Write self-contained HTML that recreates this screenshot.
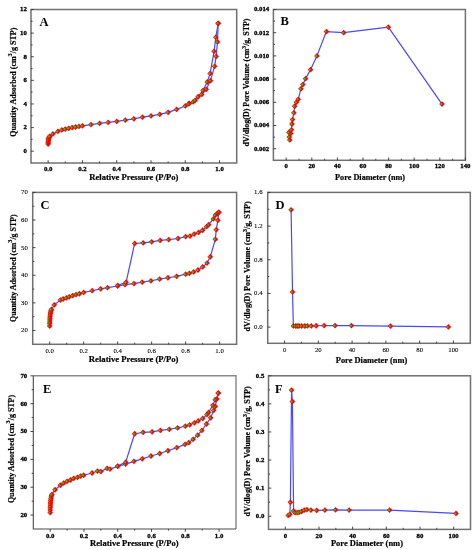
<!DOCTYPE html>
<html><head><meta charset="utf-8"><title>Isotherms</title>
<style>
html,body{margin:0;padding:0;background:#fff;}
body{width:476px;height:550px;overflow:hidden;}
svg{display:block;font-family:'Liberation Serif', 'Times New Roman', serif;}
</style></head><body>
<svg width="476" height="550" viewBox="0 0 476 550">
<rect width="476" height="550" fill="#fff"/>
<rect x="31" y="9.5" width="205.7" height="153.5" fill="none" stroke="#707070" stroke-width="1.5"/>
<path d="M48.14 163v-2.8M82.42 163v-2.8M116.71 163v-2.8M150.99 163v-2.8M185.27 163v-2.8M219.56 163v-2.8M65.28 163v-1.6M99.57 163v-1.6M133.85 163v-1.6M168.13 163v-1.6M202.42 163v-1.6M31 151.19h2.8M31 127.58h2.8M31 103.96h2.8M31 80.35h2.8M31 56.73h2.8M31 33.12h2.8M31 9.5h2.8M31 139.38h1.6M31 115.77h1.6M31 92.15h1.6M31 68.54h1.6M31 44.92h1.6M31 21.31h1.6" stroke="#333" stroke-width="0.9" fill="none"/>
<text x="48.14" y="171.2" text-anchor="middle" font-size="6.8" font-weight="bold" fill="#000" stroke="#000" stroke-width="0.3">0.0</text>
<text x="82.42" y="171.2" text-anchor="middle" font-size="6.8" font-weight="bold" fill="#000" stroke="#000" stroke-width="0.3">0.2</text>
<text x="116.71" y="171.2" text-anchor="middle" font-size="6.8" font-weight="bold" fill="#000" stroke="#000" stroke-width="0.3">0.4</text>
<text x="150.99" y="171.2" text-anchor="middle" font-size="6.8" font-weight="bold" fill="#000" stroke="#000" stroke-width="0.3">0.6</text>
<text x="185.27" y="171.2" text-anchor="middle" font-size="6.8" font-weight="bold" fill="#000" stroke="#000" stroke-width="0.3">0.8</text>
<text x="219.56" y="171.2" text-anchor="middle" font-size="6.8" font-weight="bold" fill="#000" stroke="#000" stroke-width="0.3">1.0</text>
<text x="26.8" y="153.09" text-anchor="end" font-size="6.8" font-weight="bold" fill="#000" stroke="#000" stroke-width="0.3">0</text>
<text x="26.8" y="129.48" text-anchor="end" font-size="6.8" font-weight="bold" fill="#000" stroke="#000" stroke-width="0.3">2</text>
<text x="26.8" y="105.86" text-anchor="end" font-size="6.8" font-weight="bold" fill="#000" stroke="#000" stroke-width="0.3">4</text>
<text x="26.8" y="82.25" text-anchor="end" font-size="6.8" font-weight="bold" fill="#000" stroke="#000" stroke-width="0.3">6</text>
<text x="26.8" y="58.63" text-anchor="end" font-size="6.8" font-weight="bold" fill="#000" stroke="#000" stroke-width="0.3">8</text>
<text x="26.8" y="35.02" text-anchor="end" font-size="6.8" font-weight="bold" fill="#000" stroke="#000" stroke-width="0.3">10</text>
<text x="26.8" y="11.4" text-anchor="end" font-size="6.8" font-weight="bold" fill="#000" stroke="#000" stroke-width="0.3">12</text>
<text x="89.2" y="179.8" font-size="9" font-weight="bold" stroke="#000" stroke-width="0.2" textLength="89.3" lengthAdjust="spacingAndGlyphs">Relative Pressure (P/Po)</text>
<text transform="translate(15.8 136.8) rotate(-90)" font-size="8.6" font-weight="bold" stroke="#000" stroke-width="0.2" textLength="109.2" lengthAdjust="spacingAndGlyphs">Quantity Adsorbed (cm<tspan dy="-4" font-size="6.88">3</tspan><tspan dy="4">/g STP)</tspan></text>
<text x="39.4" y="25.5" font-size="12.5" font-weight="bold">A</text>
<polyline points="48.14,144.11 48.14,142.93 48.23,141.98 48.31,141.04 48.4,140.09 48.48,139.38 48.66,138.56 49,137.73 49.34,137.02 49.68,136.31 52.94,133.95 57.91,131.36 61.85,129.94 65.28,129.11 68.71,128.29 72.14,127.58 75.57,126.99 79,126.4 82.42,125.81 91,124.62 99.57,123.33 108.14,122.38 116.71,121.44 125.28,120.14 133.85,118.84 142.42,117.19 150.99,115.89 159.73,114.35 168.13,112.34 176.53,109.39 185.27,105.97 189.22,103.37 193.16,101.95 198.13,96.76 201.73,94.4 206.19,89.32 210.47,80.7 214.59,66.29 216.13,56.38 217.5,41.97 218.19,23.31" fill="none" stroke="#4848ff" stroke-width="1.2" stroke-linejoin="round"/>
<polyline points="218.19,23.31 215.79,37.37 214.07,51.3 210.13,73.38 207.22,82 203.1,90.38 195.22,100.3 188.7,103.96" fill="none" stroke="#4848ff" stroke-width="1.2" stroke-linejoin="round"/>
<path d="M45.34 144.11l2.8 -2.9l2.8 2.9l-2.8 2.9z" fill="#f00"/>
<path d="M46.14 144.11l1.3 -1.3l1.3 1.3l-1.3 1.3z" fill="#2c2"/>
<path d="M45.34 142.93l2.8 -2.9l2.8 2.9l-2.8 2.9z" fill="#f00"/>
<path d="M46.14 142.93l1.3 -1.3l1.3 1.3l-1.3 1.3z" fill="#2c2"/>
<path d="M45.43 141.98l2.8 -2.9l2.8 2.9l-2.8 2.9z" fill="#f00"/>
<path d="M46.23 141.98l1.3 -1.3l1.3 1.3l-1.3 1.3z" fill="#2c2"/>
<path d="M45.51 141.04l2.8 -2.9l2.8 2.9l-2.8 2.9z" fill="#f00"/>
<path d="M46.31 141.04l1.3 -1.3l1.3 1.3l-1.3 1.3z" fill="#2c2"/>
<path d="M45.6 140.09l2.8 -2.9l2.8 2.9l-2.8 2.9z" fill="#f00"/>
<path d="M46.4 140.09l1.3 -1.3l1.3 1.3l-1.3 1.3z" fill="#2c2"/>
<path d="M45.68 139.38l2.8 -2.9l2.8 2.9l-2.8 2.9z" fill="#f00"/>
<path d="M46.48 139.38l1.3 -1.3l1.3 1.3l-1.3 1.3z" fill="#2c2"/>
<path d="M45.86 138.56l2.8 -2.9l2.8 2.9l-2.8 2.9z" fill="#f00"/>
<path d="M46.66 138.56l1.3 -1.3l1.3 1.3l-1.3 1.3z" fill="#2c2"/>
<path d="M46.2 137.73l2.8 -2.9l2.8 2.9l-2.8 2.9z" fill="#f00"/>
<path d="M47 137.73l1.3 -1.3l1.3 1.3l-1.3 1.3z" fill="#2c2"/>
<path d="M46.54 137.02l2.8 -2.9l2.8 2.9l-2.8 2.9z" fill="#f00"/>
<path d="M47.34 137.02l1.3 -1.3l1.3 1.3l-1.3 1.3z" fill="#2c2"/>
<path d="M46.88 136.31l2.8 -2.9l2.8 2.9l-2.8 2.9z" fill="#f00"/>
<path d="M47.68 136.31l1.3 -1.3l1.3 1.3l-1.3 1.3z" fill="#2c2"/>
<path d="M50.14 133.95l2.8 -2.9l2.8 2.9l-2.8 2.9z" fill="#f00"/>
<path d="M50.94 133.95l1.3 -1.3l1.3 1.3l-1.3 1.3z" fill="#2c2"/>
<path d="M55.11 131.36l2.8 -2.9l2.8 2.9l-2.8 2.9z" fill="#f00"/>
<path d="M55.91 131.36l1.3 -1.3l1.3 1.3l-1.3 1.3z" fill="#2c2"/>
<path d="M59.05 129.94l2.8 -2.9l2.8 2.9l-2.8 2.9z" fill="#f00"/>
<path d="M59.85 129.94l1.3 -1.3l1.3 1.3l-1.3 1.3z" fill="#2c2"/>
<path d="M62.48 129.11l2.8 -2.9l2.8 2.9l-2.8 2.9z" fill="#f00"/>
<path d="M63.28 129.11l1.3 -1.3l1.3 1.3l-1.3 1.3z" fill="#2c2"/>
<path d="M65.91 128.29l2.8 -2.9l2.8 2.9l-2.8 2.9z" fill="#f00"/>
<path d="M66.71 128.29l1.3 -1.3l1.3 1.3l-1.3 1.3z" fill="#2c2"/>
<path d="M69.34 127.58l2.8 -2.9l2.8 2.9l-2.8 2.9z" fill="#f00"/>
<path d="M70.14 127.58l1.3 -1.3l1.3 1.3l-1.3 1.3z" fill="#2c2"/>
<path d="M72.77 126.99l2.8 -2.9l2.8 2.9l-2.8 2.9z" fill="#f00"/>
<path d="M73.57 126.99l1.3 -1.3l1.3 1.3l-1.3 1.3z" fill="#2c2"/>
<path d="M76.2 126.4l2.8 -2.9l2.8 2.9l-2.8 2.9z" fill="#f00"/>
<path d="M77 126.4l1.3 -1.3l1.3 1.3l-1.3 1.3z" fill="#2c2"/>
<path d="M79.62 125.81l2.8 -2.9l2.8 2.9l-2.8 2.9z" fill="#f00"/>
<path d="M80.42 125.81l1.3 -1.3l1.3 1.3l-1.3 1.3z" fill="#2c2"/>
<path d="M88.2 124.62l2.8 -2.9l2.8 2.9l-2.8 2.9z" fill="#f00"/>
<path d="M89 124.62l1.3 -1.3l1.3 1.3l-1.3 1.3z" fill="#2c2"/>
<path d="M96.77 123.33l2.8 -2.9l2.8 2.9l-2.8 2.9z" fill="#f00"/>
<path d="M97.57 123.33l1.3 -1.3l1.3 1.3l-1.3 1.3z" fill="#2c2"/>
<path d="M105.34 122.38l2.8 -2.9l2.8 2.9l-2.8 2.9z" fill="#f00"/>
<path d="M106.14 122.38l1.3 -1.3l1.3 1.3l-1.3 1.3z" fill="#2c2"/>
<path d="M113.91 121.44l2.8 -2.9l2.8 2.9l-2.8 2.9z" fill="#f00"/>
<path d="M114.71 121.44l1.3 -1.3l1.3 1.3l-1.3 1.3z" fill="#2c2"/>
<path d="M122.48 120.14l2.8 -2.9l2.8 2.9l-2.8 2.9z" fill="#f00"/>
<path d="M123.28 120.14l1.3 -1.3l1.3 1.3l-1.3 1.3z" fill="#2c2"/>
<path d="M131.05 118.84l2.8 -2.9l2.8 2.9l-2.8 2.9z" fill="#f00"/>
<path d="M131.85 118.84l1.3 -1.3l1.3 1.3l-1.3 1.3z" fill="#2c2"/>
<path d="M139.62 117.19l2.8 -2.9l2.8 2.9l-2.8 2.9z" fill="#f00"/>
<path d="M140.42 117.19l1.3 -1.3l1.3 1.3l-1.3 1.3z" fill="#2c2"/>
<path d="M148.19 115.89l2.8 -2.9l2.8 2.9l-2.8 2.9z" fill="#f00"/>
<path d="M148.99 115.89l1.3 -1.3l1.3 1.3l-1.3 1.3z" fill="#2c2"/>
<path d="M156.93 114.35l2.8 -2.9l2.8 2.9l-2.8 2.9z" fill="#f00"/>
<path d="M157.73 114.35l1.3 -1.3l1.3 1.3l-1.3 1.3z" fill="#2c2"/>
<path d="M165.33 112.34l2.8 -2.9l2.8 2.9l-2.8 2.9z" fill="#f00"/>
<path d="M166.13 112.34l1.3 -1.3l1.3 1.3l-1.3 1.3z" fill="#2c2"/>
<path d="M173.73 109.39l2.8 -2.9l2.8 2.9l-2.8 2.9z" fill="#f00"/>
<path d="M174.53 109.39l1.3 -1.3l1.3 1.3l-1.3 1.3z" fill="#2c2"/>
<path d="M182.47 105.97l2.8 -2.9l2.8 2.9l-2.8 2.9z" fill="#f00"/>
<path d="M183.27 105.97l1.3 -1.3l1.3 1.3l-1.3 1.3z" fill="#2c2"/>
<path d="M186.42 103.37l2.8 -2.9l2.8 2.9l-2.8 2.9z" fill="#f00"/>
<path d="M187.22 103.37l1.3 -1.3l1.3 1.3l-1.3 1.3z" fill="#2c2"/>
<path d="M190.36 101.95l2.8 -2.9l2.8 2.9l-2.8 2.9z" fill="#f00"/>
<path d="M191.16 101.95l1.3 -1.3l1.3 1.3l-1.3 1.3z" fill="#2c2"/>
<path d="M195.33 96.76l2.8 -2.9l2.8 2.9l-2.8 2.9z" fill="#f00"/>
<path d="M196.13 96.76l1.3 -1.3l1.3 1.3l-1.3 1.3z" fill="#2c2"/>
<path d="M198.93 94.4l2.8 -2.9l2.8 2.9l-2.8 2.9z" fill="#f00"/>
<path d="M199.73 94.4l1.3 -1.3l1.3 1.3l-1.3 1.3z" fill="#2c2"/>
<path d="M203.39 89.32l2.8 -2.9l2.8 2.9l-2.8 2.9z" fill="#f00"/>
<path d="M204.19 89.32l1.3 -1.3l1.3 1.3l-1.3 1.3z" fill="#2c2"/>
<path d="M207.67 80.7l2.8 -2.9l2.8 2.9l-2.8 2.9z" fill="#f00"/>
<path d="M208.47 80.7l1.3 -1.3l1.3 1.3l-1.3 1.3z" fill="#2c2"/>
<path d="M211.79 66.29l2.8 -2.9l2.8 2.9l-2.8 2.9z" fill="#f00"/>
<path d="M212.59 66.29l1.3 -1.3l1.3 1.3l-1.3 1.3z" fill="#2c2"/>
<path d="M213.33 56.38l2.8 -2.9l2.8 2.9l-2.8 2.9z" fill="#f00"/>
<path d="M214.13 56.38l1.3 -1.3l1.3 1.3l-1.3 1.3z" fill="#2c2"/>
<path d="M214.7 41.97l2.8 -2.9l2.8 2.9l-2.8 2.9z" fill="#f00"/>
<path d="M215.5 41.97l1.3 -1.3l1.3 1.3l-1.3 1.3z" fill="#2c2"/>
<path d="M215.39 23.31l2.8 -2.9l2.8 2.9l-2.8 2.9z" fill="#f00"/>
<path d="M216.19 23.31l1.3 -1.3l1.3 1.3l-1.3 1.3z" fill="#2c2"/>
<path d="M215.39 23.31l2.8 -2.9l2.8 2.9l-2.8 2.9z" fill="#f00"/>
<path d="M216.19 23.31l1.3 -1.3l1.3 1.3l-1.3 1.3z" fill="#2c2"/>
<path d="M212.99 37.37l2.8 -2.9l2.8 2.9l-2.8 2.9z" fill="#f00"/>
<path d="M213.79 37.37l1.3 -1.3l1.3 1.3l-1.3 1.3z" fill="#2c2"/>
<path d="M211.27 51.3l2.8 -2.9l2.8 2.9l-2.8 2.9z" fill="#f00"/>
<path d="M212.07 51.3l1.3 -1.3l1.3 1.3l-1.3 1.3z" fill="#2c2"/>
<path d="M207.33 73.38l2.8 -2.9l2.8 2.9l-2.8 2.9z" fill="#f00"/>
<path d="M208.13 73.38l1.3 -1.3l1.3 1.3l-1.3 1.3z" fill="#2c2"/>
<path d="M204.42 82l2.8 -2.9l2.8 2.9l-2.8 2.9z" fill="#f00"/>
<path d="M205.22 82l1.3 -1.3l1.3 1.3l-1.3 1.3z" fill="#2c2"/>
<path d="M200.3 90.38l2.8 -2.9l2.8 2.9l-2.8 2.9z" fill="#f00"/>
<path d="M201.1 90.38l1.3 -1.3l1.3 1.3l-1.3 1.3z" fill="#2c2"/>
<path d="M192.42 100.3l2.8 -2.9l2.8 2.9l-2.8 2.9z" fill="#f00"/>
<path d="M193.22 100.3l1.3 -1.3l1.3 1.3l-1.3 1.3z" fill="#2c2"/>
<path d="M185.9 103.96l2.8 -2.9l2.8 2.9l-2.8 2.9z" fill="#f00"/>
<path d="M186.7 103.96l1.3 -1.3l1.3 1.3l-1.3 1.3z" fill="#2c2"/>
<rect x="273.4" y="9.5" width="192" height="150.8" fill="none" stroke="#707070" stroke-width="1.5"/>
<path d="M286.2 160.3v-2.8M311.8 160.3v-2.8M337.4 160.3v-2.8M363 160.3v-2.8M388.6 160.3v-2.8M414.2 160.3v-2.8M439.8 160.3v-2.8M465.4 160.3v-2.8M299 160.3v-1.6M324.6 160.3v-1.6M350.2 160.3v-1.6M375.8 160.3v-1.6M401.4 160.3v-1.6M427 160.3v-1.6M452.6 160.3v-1.6M273.4 148.7h2.8M273.4 125.5h2.8M273.4 102.3h2.8M273.4 79.1h2.8M273.4 55.9h2.8M273.4 32.7h2.8M273.4 9.5h2.8M273.4 137.1h1.6M273.4 113.9h1.6M273.4 90.7h1.6M273.4 67.5h1.6M273.4 44.3h1.6M273.4 21.1h1.6" stroke="#333" stroke-width="0.9" fill="none"/>
<text x="286.2" y="168" text-anchor="middle" font-size="6.8" font-weight="bold" fill="#000" stroke="#000" stroke-width="0.3">0</text>
<text x="311.8" y="168" text-anchor="middle" font-size="6.8" font-weight="bold" fill="#000" stroke="#000" stroke-width="0.3">20</text>
<text x="337.4" y="168" text-anchor="middle" font-size="6.8" font-weight="bold" fill="#000" stroke="#000" stroke-width="0.3">40</text>
<text x="363" y="168" text-anchor="middle" font-size="6.8" font-weight="bold" fill="#000" stroke="#000" stroke-width="0.3">60</text>
<text x="388.6" y="168" text-anchor="middle" font-size="6.8" font-weight="bold" fill="#000" stroke="#000" stroke-width="0.3">80</text>
<text x="414.2" y="168" text-anchor="middle" font-size="6.8" font-weight="bold" fill="#000" stroke="#000" stroke-width="0.3">100</text>
<text x="439.8" y="168" text-anchor="middle" font-size="6.8" font-weight="bold" fill="#000" stroke="#000" stroke-width="0.3">120</text>
<text x="465.4" y="168" text-anchor="middle" font-size="6.8" font-weight="bold" fill="#000" stroke="#000" stroke-width="0.3">140</text>
<text x="269.2" y="150.6" text-anchor="end" font-size="6.8" font-weight="bold" fill="#000" stroke="#000" stroke-width="0.3">0.002</text>
<text x="269.2" y="127.4" text-anchor="end" font-size="6.8" font-weight="bold" fill="#000" stroke="#000" stroke-width="0.3">0.004</text>
<text x="269.2" y="104.2" text-anchor="end" font-size="6.8" font-weight="bold" fill="#000" stroke="#000" stroke-width="0.3">0.006</text>
<text x="269.2" y="81" text-anchor="end" font-size="6.8" font-weight="bold" fill="#000" stroke="#000" stroke-width="0.3">0.008</text>
<text x="269.2" y="57.8" text-anchor="end" font-size="6.8" font-weight="bold" fill="#000" stroke="#000" stroke-width="0.3">0.010</text>
<text x="269.2" y="34.6" text-anchor="end" font-size="6.8" font-weight="bold" fill="#000" stroke="#000" stroke-width="0.3">0.012</text>
<text x="269.2" y="11.4" text-anchor="end" font-size="6.8" font-weight="bold" fill="#000" stroke="#000" stroke-width="0.3">0.014</text>
<text x="335.1" y="180" font-size="9" font-weight="bold" stroke="#000" stroke-width="0.2" textLength="70" lengthAdjust="spacingAndGlyphs">Pore Diameter (nm)</text>
<text transform="translate(248.9 146.6) rotate(-90)" font-size="8.6" font-weight="bold" stroke="#000" stroke-width="0.2" textLength="128.1" lengthAdjust="spacingAndGlyphs">dV/dlog(D) Pore Volume (cm<tspan dy="-3.2" font-size="6.19">3</tspan><tspan dy="3.2">/g, STP)</tspan></text>
<text x="280.6" y="24.6" font-size="12.5" font-weight="bold">B</text>
<polyline points="289.78,139.88 289.27,137.1 290.81,133.62 288.89,132.46 291.45,129.79 291.96,123.99 292.47,119.58 293.88,112.86 294.65,106.24 296.44,102.18 298.23,99.28 300.92,88.84 302.84,84.55 305.53,78.64 310.52,69.7 316.92,55.9 326.39,31.54 343.67,32.7 388.34,27.13 441.98,104.04" fill="none" stroke="#4848ff" stroke-width="1.2" stroke-linejoin="round"/>
<path d="M286.98 139.88l2.8 -2.9l2.8 2.9l-2.8 2.9z" fill="#f00"/>
<path d="M287.78 139.88l1.3 -1.3l1.3 1.3l-1.3 1.3z" fill="#2c2"/>
<path d="M286.47 137.1l2.8 -2.9l2.8 2.9l-2.8 2.9z" fill="#f00"/>
<path d="M287.27 137.1l1.3 -1.3l1.3 1.3l-1.3 1.3z" fill="#2c2"/>
<path d="M288.01 133.62l2.8 -2.9l2.8 2.9l-2.8 2.9z" fill="#f00"/>
<path d="M288.81 133.62l1.3 -1.3l1.3 1.3l-1.3 1.3z" fill="#2c2"/>
<path d="M286.09 132.46l2.8 -2.9l2.8 2.9l-2.8 2.9z" fill="#f00"/>
<path d="M286.89 132.46l1.3 -1.3l1.3 1.3l-1.3 1.3z" fill="#2c2"/>
<path d="M288.65 129.79l2.8 -2.9l2.8 2.9l-2.8 2.9z" fill="#f00"/>
<path d="M289.45 129.79l1.3 -1.3l1.3 1.3l-1.3 1.3z" fill="#2c2"/>
<path d="M289.16 123.99l2.8 -2.9l2.8 2.9l-2.8 2.9z" fill="#f00"/>
<path d="M289.96 123.99l1.3 -1.3l1.3 1.3l-1.3 1.3z" fill="#2c2"/>
<path d="M289.67 119.58l2.8 -2.9l2.8 2.9l-2.8 2.9z" fill="#f00"/>
<path d="M290.47 119.58l1.3 -1.3l1.3 1.3l-1.3 1.3z" fill="#2c2"/>
<path d="M291.08 112.86l2.8 -2.9l2.8 2.9l-2.8 2.9z" fill="#f00"/>
<path d="M291.88 112.86l1.3 -1.3l1.3 1.3l-1.3 1.3z" fill="#2c2"/>
<path d="M291.85 106.24l2.8 -2.9l2.8 2.9l-2.8 2.9z" fill="#f00"/>
<path d="M292.65 106.24l1.3 -1.3l1.3 1.3l-1.3 1.3z" fill="#2c2"/>
<path d="M293.64 102.18l2.8 -2.9l2.8 2.9l-2.8 2.9z" fill="#f00"/>
<path d="M294.44 102.18l1.3 -1.3l1.3 1.3l-1.3 1.3z" fill="#2c2"/>
<path d="M295.43 99.28l2.8 -2.9l2.8 2.9l-2.8 2.9z" fill="#f00"/>
<path d="M296.23 99.28l1.3 -1.3l1.3 1.3l-1.3 1.3z" fill="#2c2"/>
<path d="M298.12 88.84l2.8 -2.9l2.8 2.9l-2.8 2.9z" fill="#f00"/>
<path d="M298.92 88.84l1.3 -1.3l1.3 1.3l-1.3 1.3z" fill="#2c2"/>
<path d="M300.04 84.55l2.8 -2.9l2.8 2.9l-2.8 2.9z" fill="#f00"/>
<path d="M300.84 84.55l1.3 -1.3l1.3 1.3l-1.3 1.3z" fill="#2c2"/>
<path d="M302.73 78.64l2.8 -2.9l2.8 2.9l-2.8 2.9z" fill="#f00"/>
<path d="M303.53 78.64l1.3 -1.3l1.3 1.3l-1.3 1.3z" fill="#2c2"/>
<path d="M307.72 69.7l2.8 -2.9l2.8 2.9l-2.8 2.9z" fill="#f00"/>
<path d="M308.52 69.7l1.3 -1.3l1.3 1.3l-1.3 1.3z" fill="#2c2"/>
<path d="M314.12 55.9l2.8 -2.9l2.8 2.9l-2.8 2.9z" fill="#f00"/>
<path d="M314.92 55.9l1.3 -1.3l1.3 1.3l-1.3 1.3z" fill="#2c2"/>
<path d="M323.59 31.54l2.8 -2.9l2.8 2.9l-2.8 2.9z" fill="#f00"/>
<path d="M324.39 31.54l1.3 -1.3l1.3 1.3l-1.3 1.3z" fill="#2c2"/>
<path d="M340.87 32.7l2.8 -2.9l2.8 2.9l-2.8 2.9z" fill="#f00"/>
<path d="M341.67 32.7l1.3 -1.3l1.3 1.3l-1.3 1.3z" fill="#2c2"/>
<path d="M385.54 27.13l2.8 -2.9l2.8 2.9l-2.8 2.9z" fill="#f00"/>
<path d="M386.34 27.13l1.3 -1.3l1.3 1.3l-1.3 1.3z" fill="#2c2"/>
<path d="M439.18 104.04l2.8 -2.9l2.8 2.9l-2.8 2.9z" fill="#f00"/>
<path d="M439.98 104.04l1.3 -1.3l1.3 1.3l-1.3 1.3z" fill="#2c2"/>
<rect x="32.7" y="192.4" width="203.9" height="151.9" fill="none" stroke="#707070" stroke-width="1.5"/>
<path d="M49.69 344.3v-2.8M83.67 344.3v-2.8M117.66 344.3v-2.8M151.64 344.3v-2.8M185.62 344.3v-2.8M219.61 344.3v-2.8M66.68 344.3v-1.6M100.67 344.3v-1.6M134.65 344.3v-1.6M168.63 344.3v-1.6M202.62 344.3v-1.6M32.7 330.49h2.8M32.7 302.87h2.8M32.7 275.25h2.8M32.7 247.64h2.8M32.7 220.02h2.8M32.7 192.4h2.8M32.7 316.68h1.6M32.7 289.06h1.6M32.7 261.45h1.6M32.7 233.83h1.6M32.7 206.21h1.6" stroke="#333" stroke-width="0.9" fill="none"/>
<text x="49.69" y="352.6" text-anchor="middle" font-size="6.8" font-weight="normal" fill="#000" stroke="#000" stroke-width="0.1">0.0</text>
<text x="83.67" y="352.6" text-anchor="middle" font-size="6.8" font-weight="normal" fill="#000" stroke="#000" stroke-width="0.1">0.2</text>
<text x="117.66" y="352.6" text-anchor="middle" font-size="6.8" font-weight="normal" fill="#000" stroke="#000" stroke-width="0.1">0.4</text>
<text x="151.64" y="352.6" text-anchor="middle" font-size="6.8" font-weight="normal" fill="#000" stroke="#000" stroke-width="0.1">0.6</text>
<text x="185.62" y="352.6" text-anchor="middle" font-size="6.8" font-weight="normal" fill="#000" stroke="#000" stroke-width="0.1">0.8</text>
<text x="219.61" y="352.6" text-anchor="middle" font-size="6.8" font-weight="normal" fill="#000" stroke="#000" stroke-width="0.1">1.0</text>
<text x="27.9" y="332.39" text-anchor="end" font-size="6.8" font-weight="normal" fill="#000" stroke="#000" stroke-width="0.1">20</text>
<text x="27.9" y="304.77" text-anchor="end" font-size="6.8" font-weight="normal" fill="#000" stroke="#000" stroke-width="0.1">30</text>
<text x="27.9" y="277.15" text-anchor="end" font-size="6.8" font-weight="normal" fill="#000" stroke="#000" stroke-width="0.1">40</text>
<text x="27.9" y="249.54" text-anchor="end" font-size="6.8" font-weight="normal" fill="#000" stroke="#000" stroke-width="0.1">50</text>
<text x="27.9" y="221.92" text-anchor="end" font-size="6.8" font-weight="normal" fill="#000" stroke="#000" stroke-width="0.1">60</text>
<text x="27.9" y="194.3" text-anchor="end" font-size="6.8" font-weight="normal" fill="#000" stroke="#000" stroke-width="0.1">70</text>
<text x="88.8" y="362.3" font-size="9" font-weight="bold" stroke="#000" stroke-width="0.2" textLength="89.7" lengthAdjust="spacingAndGlyphs">Relative Pressure (P/Po)</text>
<text transform="translate(16.3 322) rotate(-90)" font-size="8.6" font-weight="bold" stroke="#000" stroke-width="0.2" textLength="107.6" lengthAdjust="spacingAndGlyphs">Quantity Adsorbed (cm<tspan dy="-4" font-size="6.88">3</tspan><tspan dy="4">/g STP)</tspan></text>
<text x="40.4" y="209" font-size="12.5" font-weight="bold">C</text>
<polyline points="49.69,326.07 49.69,323.86 49.78,321.93 49.86,320 49.95,318.34 50.03,316.68 50.2,315.02 50.37,313.37 50.71,311.99 51.05,310.61 51.39,309.5 54.28,304.81 60.4,300.11 63.12,299.01 66.34,297.9 69.23,296.8 72.63,295.69 76.03,294.59 79.43,293.76 83.67,292.38 92.17,290.72 100.67,288.79 107.46,287.68 117.66,286.03 124.96,284.64 133.97,283.54 142.13,282.16 150.96,280.78 159.63,279.12 167.95,277.74 176.62,276.36 185.62,274.15 189.36,273.32 193.61,271.94 198.03,270.01 202.62,266.97 207.03,263.1 210.26,256.75 215.36,239.35 216.21,229.68 217.91,220.29 218.76,212.29" fill="none" stroke="#4848ff" stroke-width="1.2" stroke-linejoin="round"/>
<polyline points="218.76,212.29 217.06,213.94 215.36,215.05 213.32,218.91 208.73,224.71 206.52,226.65 202.62,230.24 198.54,232.45 194.12,234.1 190.04,236.04 185.62,236.59 177.98,238.52 168.63,239.63 160.14,240.46 151.64,241.84 143.15,242.94 134.65,243.49 126.15,282.16 117.66,285.47" fill="none" stroke="#4848ff" stroke-width="1.2" stroke-linejoin="round"/>
<path d="M46.89 326.07l2.8 -2.9l2.8 2.9l-2.8 2.9z" fill="#f00"/>
<path d="M47.69 326.07l1.3 -1.3l1.3 1.3l-1.3 1.3z" fill="#2c2"/>
<path d="M46.89 323.86l2.8 -2.9l2.8 2.9l-2.8 2.9z" fill="#f00"/>
<path d="M47.69 323.86l1.3 -1.3l1.3 1.3l-1.3 1.3z" fill="#2c2"/>
<path d="M46.98 321.93l2.8 -2.9l2.8 2.9l-2.8 2.9z" fill="#f00"/>
<path d="M47.78 321.93l1.3 -1.3l1.3 1.3l-1.3 1.3z" fill="#2c2"/>
<path d="M47.06 320l2.8 -2.9l2.8 2.9l-2.8 2.9z" fill="#f00"/>
<path d="M47.86 320l1.3 -1.3l1.3 1.3l-1.3 1.3z" fill="#2c2"/>
<path d="M47.15 318.34l2.8 -2.9l2.8 2.9l-2.8 2.9z" fill="#f00"/>
<path d="M47.95 318.34l1.3 -1.3l1.3 1.3l-1.3 1.3z" fill="#2c2"/>
<path d="M47.23 316.68l2.8 -2.9l2.8 2.9l-2.8 2.9z" fill="#f00"/>
<path d="M48.03 316.68l1.3 -1.3l1.3 1.3l-1.3 1.3z" fill="#2c2"/>
<path d="M47.4 315.02l2.8 -2.9l2.8 2.9l-2.8 2.9z" fill="#f00"/>
<path d="M48.2 315.02l1.3 -1.3l1.3 1.3l-1.3 1.3z" fill="#2c2"/>
<path d="M47.57 313.37l2.8 -2.9l2.8 2.9l-2.8 2.9z" fill="#f00"/>
<path d="M48.37 313.37l1.3 -1.3l1.3 1.3l-1.3 1.3z" fill="#2c2"/>
<path d="M47.91 311.99l2.8 -2.9l2.8 2.9l-2.8 2.9z" fill="#f00"/>
<path d="M48.71 311.99l1.3 -1.3l1.3 1.3l-1.3 1.3z" fill="#2c2"/>
<path d="M48.25 310.61l2.8 -2.9l2.8 2.9l-2.8 2.9z" fill="#f00"/>
<path d="M49.05 310.61l1.3 -1.3l1.3 1.3l-1.3 1.3z" fill="#2c2"/>
<path d="M48.59 309.5l2.8 -2.9l2.8 2.9l-2.8 2.9z" fill="#f00"/>
<path d="M49.39 309.5l1.3 -1.3l1.3 1.3l-1.3 1.3z" fill="#2c2"/>
<path d="M51.48 304.81l2.8 -2.9l2.8 2.9l-2.8 2.9z" fill="#f00"/>
<path d="M52.28 304.81l1.3 -1.3l1.3 1.3l-1.3 1.3z" fill="#2c2"/>
<path d="M57.6 300.11l2.8 -2.9l2.8 2.9l-2.8 2.9z" fill="#f00"/>
<path d="M58.4 300.11l1.3 -1.3l1.3 1.3l-1.3 1.3z" fill="#2c2"/>
<path d="M60.32 299.01l2.8 -2.9l2.8 2.9l-2.8 2.9z" fill="#f00"/>
<path d="M61.12 299.01l1.3 -1.3l1.3 1.3l-1.3 1.3z" fill="#2c2"/>
<path d="M63.54 297.9l2.8 -2.9l2.8 2.9l-2.8 2.9z" fill="#f00"/>
<path d="M64.34 297.9l1.3 -1.3l1.3 1.3l-1.3 1.3z" fill="#2c2"/>
<path d="M66.43 296.8l2.8 -2.9l2.8 2.9l-2.8 2.9z" fill="#f00"/>
<path d="M67.23 296.8l1.3 -1.3l1.3 1.3l-1.3 1.3z" fill="#2c2"/>
<path d="M69.83 295.69l2.8 -2.9l2.8 2.9l-2.8 2.9z" fill="#f00"/>
<path d="M70.63 295.69l1.3 -1.3l1.3 1.3l-1.3 1.3z" fill="#2c2"/>
<path d="M73.23 294.59l2.8 -2.9l2.8 2.9l-2.8 2.9z" fill="#f00"/>
<path d="M74.03 294.59l1.3 -1.3l1.3 1.3l-1.3 1.3z" fill="#2c2"/>
<path d="M76.63 293.76l2.8 -2.9l2.8 2.9l-2.8 2.9z" fill="#f00"/>
<path d="M77.43 293.76l1.3 -1.3l1.3 1.3l-1.3 1.3z" fill="#2c2"/>
<path d="M80.88 292.38l2.8 -2.9l2.8 2.9l-2.8 2.9z" fill="#f00"/>
<path d="M81.67 292.38l1.3 -1.3l1.3 1.3l-1.3 1.3z" fill="#2c2"/>
<path d="M89.37 290.72l2.8 -2.9l2.8 2.9l-2.8 2.9z" fill="#f00"/>
<path d="M90.17 290.72l1.3 -1.3l1.3 1.3l-1.3 1.3z" fill="#2c2"/>
<path d="M97.87 288.79l2.8 -2.9l2.8 2.9l-2.8 2.9z" fill="#f00"/>
<path d="M98.67 288.79l1.3 -1.3l1.3 1.3l-1.3 1.3z" fill="#2c2"/>
<path d="M104.66 287.68l2.8 -2.9l2.8 2.9l-2.8 2.9z" fill="#f00"/>
<path d="M105.46 287.68l1.3 -1.3l1.3 1.3l-1.3 1.3z" fill="#2c2"/>
<path d="M114.86 286.03l2.8 -2.9l2.8 2.9l-2.8 2.9z" fill="#f00"/>
<path d="M115.66 286.03l1.3 -1.3l1.3 1.3l-1.3 1.3z" fill="#2c2"/>
<path d="M122.16 284.64l2.8 -2.9l2.8 2.9l-2.8 2.9z" fill="#f00"/>
<path d="M122.96 284.64l1.3 -1.3l1.3 1.3l-1.3 1.3z" fill="#2c2"/>
<path d="M131.17 283.54l2.8 -2.9l2.8 2.9l-2.8 2.9z" fill="#f00"/>
<path d="M131.97 283.54l1.3 -1.3l1.3 1.3l-1.3 1.3z" fill="#2c2"/>
<path d="M139.33 282.16l2.8 -2.9l2.8 2.9l-2.8 2.9z" fill="#f00"/>
<path d="M140.13 282.16l1.3 -1.3l1.3 1.3l-1.3 1.3z" fill="#2c2"/>
<path d="M148.16 280.78l2.8 -2.9l2.8 2.9l-2.8 2.9z" fill="#f00"/>
<path d="M148.96 280.78l1.3 -1.3l1.3 1.3l-1.3 1.3z" fill="#2c2"/>
<path d="M156.83 279.12l2.8 -2.9l2.8 2.9l-2.8 2.9z" fill="#f00"/>
<path d="M157.63 279.12l1.3 -1.3l1.3 1.3l-1.3 1.3z" fill="#2c2"/>
<path d="M165.15 277.74l2.8 -2.9l2.8 2.9l-2.8 2.9z" fill="#f00"/>
<path d="M165.95 277.74l1.3 -1.3l1.3 1.3l-1.3 1.3z" fill="#2c2"/>
<path d="M173.82 276.36l2.8 -2.9l2.8 2.9l-2.8 2.9z" fill="#f00"/>
<path d="M174.62 276.36l1.3 -1.3l1.3 1.3l-1.3 1.3z" fill="#2c2"/>
<path d="M182.82 274.15l2.8 -2.9l2.8 2.9l-2.8 2.9z" fill="#f00"/>
<path d="M183.62 274.15l1.3 -1.3l1.3 1.3l-1.3 1.3z" fill="#2c2"/>
<path d="M186.56 273.32l2.8 -2.9l2.8 2.9l-2.8 2.9z" fill="#f00"/>
<path d="M187.36 273.32l1.3 -1.3l1.3 1.3l-1.3 1.3z" fill="#2c2"/>
<path d="M190.81 271.94l2.8 -2.9l2.8 2.9l-2.8 2.9z" fill="#f00"/>
<path d="M191.61 271.94l1.3 -1.3l1.3 1.3l-1.3 1.3z" fill="#2c2"/>
<path d="M195.23 270.01l2.8 -2.9l2.8 2.9l-2.8 2.9z" fill="#f00"/>
<path d="M196.03 270.01l1.3 -1.3l1.3 1.3l-1.3 1.3z" fill="#2c2"/>
<path d="M199.82 266.97l2.8 -2.9l2.8 2.9l-2.8 2.9z" fill="#f00"/>
<path d="M200.62 266.97l1.3 -1.3l1.3 1.3l-1.3 1.3z" fill="#2c2"/>
<path d="M204.23 263.1l2.8 -2.9l2.8 2.9l-2.8 2.9z" fill="#f00"/>
<path d="M205.03 263.1l1.3 -1.3l1.3 1.3l-1.3 1.3z" fill="#2c2"/>
<path d="M207.46 256.75l2.8 -2.9l2.8 2.9l-2.8 2.9z" fill="#f00"/>
<path d="M208.26 256.75l1.3 -1.3l1.3 1.3l-1.3 1.3z" fill="#2c2"/>
<path d="M212.56 239.35l2.8 -2.9l2.8 2.9l-2.8 2.9z" fill="#f00"/>
<path d="M213.36 239.35l1.3 -1.3l1.3 1.3l-1.3 1.3z" fill="#2c2"/>
<path d="M213.41 229.68l2.8 -2.9l2.8 2.9l-2.8 2.9z" fill="#f00"/>
<path d="M214.21 229.68l1.3 -1.3l1.3 1.3l-1.3 1.3z" fill="#2c2"/>
<path d="M215.11 220.29l2.8 -2.9l2.8 2.9l-2.8 2.9z" fill="#f00"/>
<path d="M215.91 220.29l1.3 -1.3l1.3 1.3l-1.3 1.3z" fill="#2c2"/>
<path d="M215.96 212.29l2.8 -2.9l2.8 2.9l-2.8 2.9z" fill="#f00"/>
<path d="M216.76 212.29l1.3 -1.3l1.3 1.3l-1.3 1.3z" fill="#2c2"/>
<path d="M215.96 212.29l2.8 -2.9l2.8 2.9l-2.8 2.9z" fill="#f00"/>
<path d="M216.76 212.29l1.3 -1.3l1.3 1.3l-1.3 1.3z" fill="#2c2"/>
<path d="M214.26 213.94l2.8 -2.9l2.8 2.9l-2.8 2.9z" fill="#f00"/>
<path d="M215.06 213.94l1.3 -1.3l1.3 1.3l-1.3 1.3z" fill="#2c2"/>
<path d="M212.56 215.05l2.8 -2.9l2.8 2.9l-2.8 2.9z" fill="#f00"/>
<path d="M213.36 215.05l1.3 -1.3l1.3 1.3l-1.3 1.3z" fill="#2c2"/>
<path d="M210.52 218.91l2.8 -2.9l2.8 2.9l-2.8 2.9z" fill="#f00"/>
<path d="M211.32 218.91l1.3 -1.3l1.3 1.3l-1.3 1.3z" fill="#2c2"/>
<path d="M205.93 224.71l2.8 -2.9l2.8 2.9l-2.8 2.9z" fill="#f00"/>
<path d="M206.73 224.71l1.3 -1.3l1.3 1.3l-1.3 1.3z" fill="#2c2"/>
<path d="M203.72 226.65l2.8 -2.9l2.8 2.9l-2.8 2.9z" fill="#f00"/>
<path d="M204.52 226.65l1.3 -1.3l1.3 1.3l-1.3 1.3z" fill="#2c2"/>
<path d="M199.82 230.24l2.8 -2.9l2.8 2.9l-2.8 2.9z" fill="#f00"/>
<path d="M200.62 230.24l1.3 -1.3l1.3 1.3l-1.3 1.3z" fill="#2c2"/>
<path d="M195.74 232.45l2.8 -2.9l2.8 2.9l-2.8 2.9z" fill="#f00"/>
<path d="M196.54 232.45l1.3 -1.3l1.3 1.3l-1.3 1.3z" fill="#2c2"/>
<path d="M191.32 234.1l2.8 -2.9l2.8 2.9l-2.8 2.9z" fill="#f00"/>
<path d="M192.12 234.1l1.3 -1.3l1.3 1.3l-1.3 1.3z" fill="#2c2"/>
<path d="M187.24 236.04l2.8 -2.9l2.8 2.9l-2.8 2.9z" fill="#f00"/>
<path d="M188.04 236.04l1.3 -1.3l1.3 1.3l-1.3 1.3z" fill="#2c2"/>
<path d="M182.82 236.59l2.8 -2.9l2.8 2.9l-2.8 2.9z" fill="#f00"/>
<path d="M183.62 236.59l1.3 -1.3l1.3 1.3l-1.3 1.3z" fill="#2c2"/>
<path d="M175.18 238.52l2.8 -2.9l2.8 2.9l-2.8 2.9z" fill="#f00"/>
<path d="M175.98 238.52l1.3 -1.3l1.3 1.3l-1.3 1.3z" fill="#2c2"/>
<path d="M165.83 239.63l2.8 -2.9l2.8 2.9l-2.8 2.9z" fill="#f00"/>
<path d="M166.63 239.63l1.3 -1.3l1.3 1.3l-1.3 1.3z" fill="#2c2"/>
<path d="M157.34 240.46l2.8 -2.9l2.8 2.9l-2.8 2.9z" fill="#f00"/>
<path d="M158.14 240.46l1.3 -1.3l1.3 1.3l-1.3 1.3z" fill="#2c2"/>
<path d="M148.84 241.84l2.8 -2.9l2.8 2.9l-2.8 2.9z" fill="#f00"/>
<path d="M149.64 241.84l1.3 -1.3l1.3 1.3l-1.3 1.3z" fill="#2c2"/>
<path d="M140.35 242.94l2.8 -2.9l2.8 2.9l-2.8 2.9z" fill="#f00"/>
<path d="M141.15 242.94l1.3 -1.3l1.3 1.3l-1.3 1.3z" fill="#2c2"/>
<path d="M131.85 243.49l2.8 -2.9l2.8 2.9l-2.8 2.9z" fill="#f00"/>
<path d="M132.65 243.49l1.3 -1.3l1.3 1.3l-1.3 1.3z" fill="#2c2"/>
<path d="M123.35 282.16l2.8 -2.9l2.8 2.9l-2.8 2.9z" fill="#f00"/>
<path d="M124.15 282.16l1.3 -1.3l1.3 1.3l-1.3 1.3z" fill="#2c2"/>
<path d="M114.86 285.47l2.8 -2.9l2.8 2.9l-2.8 2.9z" fill="#f00"/>
<path d="M115.66 285.47l1.3 -1.3l1.3 1.3l-1.3 1.3z" fill="#2c2"/>
<rect x="267.7" y="192.4" width="202.6" height="150.9" fill="none" stroke="#707070" stroke-width="1.5"/>
<path d="M284.58 343.3v-2.8M318.35 343.3v-2.8M352.12 343.3v-2.8M385.88 343.3v-2.8M419.65 343.3v-2.8M453.42 343.3v-2.8M301.47 343.3v-1.6M335.23 343.3v-1.6M369 343.3v-1.6M402.77 343.3v-1.6M436.53 343.3v-1.6M267.7 327.1h2.8M267.7 293.43h2.8M267.7 259.75h2.8M267.7 226.08h2.8M267.7 192.4h2.8M267.7 310.26h1.6M267.7 276.59h1.6M267.7 242.91h1.6M267.7 209.24h1.6" stroke="#333" stroke-width="0.9" fill="none"/>
<text x="284.58" y="351.9" text-anchor="middle" font-size="6.8" font-weight="normal" fill="#000" stroke="#000" stroke-width="0.1">0</text>
<text x="318.35" y="351.9" text-anchor="middle" font-size="6.8" font-weight="normal" fill="#000" stroke="#000" stroke-width="0.1">20</text>
<text x="352.12" y="351.9" text-anchor="middle" font-size="6.8" font-weight="normal" fill="#000" stroke="#000" stroke-width="0.1">40</text>
<text x="385.88" y="351.9" text-anchor="middle" font-size="6.8" font-weight="normal" fill="#000" stroke="#000" stroke-width="0.1">60</text>
<text x="419.65" y="351.9" text-anchor="middle" font-size="6.8" font-weight="normal" fill="#000" stroke="#000" stroke-width="0.1">80</text>
<text x="453.42" y="351.9" text-anchor="middle" font-size="6.8" font-weight="normal" fill="#000" stroke="#000" stroke-width="0.1">100</text>
<text x="262.6" y="328.9" text-anchor="end" font-size="6.8" font-weight="normal" fill="#000" stroke="#000" stroke-width="0.1">0.0</text>
<text x="262.6" y="295.23" text-anchor="end" font-size="6.8" font-weight="normal" fill="#000" stroke="#000" stroke-width="0.1">0.4</text>
<text x="262.6" y="261.55" text-anchor="end" font-size="6.8" font-weight="normal" fill="#000" stroke="#000" stroke-width="0.1">0.8</text>
<text x="262.6" y="227.88" text-anchor="end" font-size="6.8" font-weight="normal" fill="#000" stroke="#000" stroke-width="0.1">1.2</text>
<text x="262.6" y="194.2" text-anchor="end" font-size="6.8" font-weight="normal" fill="#000" stroke="#000" stroke-width="0.1">1.6</text>
<text x="335.8" y="362.5" font-size="9" font-weight="bold" stroke="#000" stroke-width="0.2" textLength="71.4" lengthAdjust="spacingAndGlyphs">Pore Diameter (nm)</text>
<text transform="translate(249.8 331.4) rotate(-90)" font-size="8.6" font-weight="bold" stroke="#000" stroke-width="0.2" textLength="130.1" lengthAdjust="spacingAndGlyphs">dV/dlog(D) Pore Volume (cm<tspan dy="-3.2" font-size="6.19">3</tspan><tspan dy="3.2">/g, STP)</tspan></text>
<text x="275.4" y="208.8" font-size="12.5" font-weight="bold">D</text>
<polyline points="291.08,209.83 292.52,291.91 293.36,325.92 295.73,326.01 297.25,326.01 298.93,326.01 301.64,326.01 304.84,326.01 307.38,325.92 311.26,325.92 316.16,325.76 324.09,325.59 335.06,325.59 351.44,325.59 390.44,326.09 448.35,326.93" fill="none" stroke="#4848ff" stroke-width="1.2" stroke-linejoin="round"/>
<path d="M288.28 209.83l2.8 -2.9l2.8 2.9l-2.8 2.9z" fill="#f00"/>
<path d="M289.08 209.83l1.3 -1.3l1.3 1.3l-1.3 1.3z" fill="#2c2"/>
<path d="M289.72 291.91l2.8 -2.9l2.8 2.9l-2.8 2.9z" fill="#f00"/>
<path d="M290.52 291.91l1.3 -1.3l1.3 1.3l-1.3 1.3z" fill="#2c2"/>
<path d="M290.56 325.92l2.8 -2.9l2.8 2.9l-2.8 2.9z" fill="#f00"/>
<path d="M291.36 325.92l1.3 -1.3l1.3 1.3l-1.3 1.3z" fill="#2c2"/>
<path d="M292.93 326.01l2.8 -2.9l2.8 2.9l-2.8 2.9z" fill="#f00"/>
<path d="M293.73 326.01l1.3 -1.3l1.3 1.3l-1.3 1.3z" fill="#2c2"/>
<path d="M294.45 326.01l2.8 -2.9l2.8 2.9l-2.8 2.9z" fill="#f00"/>
<path d="M295.25 326.01l1.3 -1.3l1.3 1.3l-1.3 1.3z" fill="#2c2"/>
<path d="M296.13 326.01l2.8 -2.9l2.8 2.9l-2.8 2.9z" fill="#f00"/>
<path d="M296.93 326.01l1.3 -1.3l1.3 1.3l-1.3 1.3z" fill="#2c2"/>
<path d="M298.84 326.01l2.8 -2.9l2.8 2.9l-2.8 2.9z" fill="#f00"/>
<path d="M299.64 326.01l1.3 -1.3l1.3 1.3l-1.3 1.3z" fill="#2c2"/>
<path d="M302.04 326.01l2.8 -2.9l2.8 2.9l-2.8 2.9z" fill="#f00"/>
<path d="M302.84 326.01l1.3 -1.3l1.3 1.3l-1.3 1.3z" fill="#2c2"/>
<path d="M304.58 325.92l2.8 -2.9l2.8 2.9l-2.8 2.9z" fill="#f00"/>
<path d="M305.38 325.92l1.3 -1.3l1.3 1.3l-1.3 1.3z" fill="#2c2"/>
<path d="M308.46 325.92l2.8 -2.9l2.8 2.9l-2.8 2.9z" fill="#f00"/>
<path d="M309.26 325.92l1.3 -1.3l1.3 1.3l-1.3 1.3z" fill="#2c2"/>
<path d="M313.36 325.76l2.8 -2.9l2.8 2.9l-2.8 2.9z" fill="#f00"/>
<path d="M314.16 325.76l1.3 -1.3l1.3 1.3l-1.3 1.3z" fill="#2c2"/>
<path d="M321.29 325.59l2.8 -2.9l2.8 2.9l-2.8 2.9z" fill="#f00"/>
<path d="M322.09 325.59l1.3 -1.3l1.3 1.3l-1.3 1.3z" fill="#2c2"/>
<path d="M332.26 325.59l2.8 -2.9l2.8 2.9l-2.8 2.9z" fill="#f00"/>
<path d="M333.06 325.59l1.3 -1.3l1.3 1.3l-1.3 1.3z" fill="#2c2"/>
<path d="M348.64 325.59l2.8 -2.9l2.8 2.9l-2.8 2.9z" fill="#f00"/>
<path d="M349.44 325.59l1.3 -1.3l1.3 1.3l-1.3 1.3z" fill="#2c2"/>
<path d="M387.64 326.09l2.8 -2.9l2.8 2.9l-2.8 2.9z" fill="#f00"/>
<path d="M388.44 326.09l1.3 -1.3l1.3 1.3l-1.3 1.3z" fill="#2c2"/>
<path d="M445.55 326.93l2.8 -2.9l2.8 2.9l-2.8 2.9z" fill="#f00"/>
<path d="M446.35 326.93l1.3 -1.3l1.3 1.3l-1.3 1.3z" fill="#2c2"/>
<path d="M33.3 375.8H236V529" fill="none" stroke="#8a8a8a" stroke-width="1.5"/>
<path d="M33.3 375.8V529H236" fill="none" stroke="#4a4a4a" stroke-width="1.1"/>
<path d="M50.19 529v2.8M83.97 529v2.8M117.76 529v2.8M151.54 529v2.8M185.32 529v2.8M219.11 529v2.8M67.08 529v1.6M100.87 529v1.6M134.65 529v1.6M168.43 529v1.6M202.22 529v1.6M33.3 515.07h-2.8M33.3 487.22h-2.8M33.3 459.36h-2.8M33.3 431.51h-2.8M33.3 403.65h-2.8M33.3 375.8h-2.8M33.3 501.15h-1.6M33.3 473.29h-1.6M33.3 445.44h-1.6M33.3 417.58h-1.6M33.3 389.73h-1.6" stroke="#333" stroke-width="0.9" fill="none"/>
<text x="50.19" y="538.3" text-anchor="middle" font-size="6.8" font-weight="bold" fill="#000" stroke="#000" stroke-width="0.3">0.0</text>
<text x="83.97" y="538.3" text-anchor="middle" font-size="6.8" font-weight="bold" fill="#000" stroke="#000" stroke-width="0.3">0.2</text>
<text x="117.76" y="538.3" text-anchor="middle" font-size="6.8" font-weight="bold" fill="#000" stroke="#000" stroke-width="0.3">0.4</text>
<text x="151.54" y="538.3" text-anchor="middle" font-size="6.8" font-weight="bold" fill="#000" stroke="#000" stroke-width="0.3">0.6</text>
<text x="185.32" y="538.3" text-anchor="middle" font-size="6.8" font-weight="bold" fill="#000" stroke="#000" stroke-width="0.3">0.8</text>
<text x="219.11" y="538.3" text-anchor="middle" font-size="6.8" font-weight="bold" fill="#000" stroke="#000" stroke-width="0.3">1.0</text>
<text x="27.2" y="516.97" text-anchor="end" font-size="6.8" font-weight="bold" fill="#000" stroke="#000" stroke-width="0.3">20</text>
<text x="27.2" y="489.12" text-anchor="end" font-size="6.8" font-weight="bold" fill="#000" stroke="#000" stroke-width="0.3">30</text>
<text x="27.2" y="461.26" text-anchor="end" font-size="6.8" font-weight="bold" fill="#000" stroke="#000" stroke-width="0.3">40</text>
<text x="27.2" y="433.41" text-anchor="end" font-size="6.8" font-weight="bold" fill="#000" stroke="#000" stroke-width="0.3">50</text>
<text x="27.2" y="405.55" text-anchor="end" font-size="6.8" font-weight="bold" fill="#000" stroke="#000" stroke-width="0.3">60</text>
<text x="27.2" y="377.7" text-anchor="end" font-size="6.8" font-weight="bold" fill="#000" stroke="#000" stroke-width="0.3">70</text>
<text x="90.1" y="546" font-size="9" font-weight="bold" stroke="#000" stroke-width="0.2" textLength="88.4" lengthAdjust="spacingAndGlyphs">Relative Pressure (P/Po)</text>
<text transform="translate(14.3 503.1) rotate(-90)" font-size="8.6" font-weight="bold" stroke="#000" stroke-width="0.2" textLength="108.2" lengthAdjust="spacingAndGlyphs">Quantity Adsorbed (cm<tspan dy="-4" font-size="6.88">3</tspan><tspan dy="4">/g STP)</tspan></text>
<text x="43" y="392.8" font-size="12.5" font-weight="bold">E</text>
<polyline points="50.19,512.57 50.19,510.06 50.28,507.83 50.36,505.88 50.45,503.93 50.53,502.26 50.7,500.31 50.87,498.64 51.21,496.97 51.54,495.57 51.88,494.46 55.09,489.73 60.33,485.27 63.7,483.04 67.08,481.37 70.46,479.98 73.67,478.3 77.39,477.47 80.6,476.08 83.64,475.24 92.08,473.01 97.49,471.06 100.87,471.62 107.12,468.28 109.99,469.11 117.76,466.33 125.53,464.1 133.97,461.31 142.25,458.81 151.03,456.02 159.65,453.51 167.93,450.73 176.71,447.66 184.99,444.32 188.7,442.65 193.1,439.31 197.66,435.13 201.88,430.39 206.44,423.99 210.66,417.86 213.7,410.34 215.22,406.44 218.26,393.07" fill="none" stroke="#4848ff" stroke-width="1.2" stroke-linejoin="round"/>
<polyline points="218.26,393.07 216.91,398.92 215.22,399.75 212.86,405.33 208.64,412.29 206.95,414.52 202.72,418.42 198.16,420.92 194.45,422.87 189.72,424.82 185.32,426.22 177.55,427.89 169.28,429.28 160.33,430.39 152.05,431.79 143.1,432.34 134.65,433.74 125.7,462.15 117.76,466.05" fill="none" stroke="#4848ff" stroke-width="1.2" stroke-linejoin="round"/>
<path d="M47.39 512.57l2.8 -2.9l2.8 2.9l-2.8 2.9z" fill="#f00"/>
<path d="M48.19 512.57l1.3 -1.3l1.3 1.3l-1.3 1.3z" fill="#2c2"/>
<path d="M47.39 510.06l2.8 -2.9l2.8 2.9l-2.8 2.9z" fill="#f00"/>
<path d="M48.19 510.06l1.3 -1.3l1.3 1.3l-1.3 1.3z" fill="#2c2"/>
<path d="M47.48 507.83l2.8 -2.9l2.8 2.9l-2.8 2.9z" fill="#f00"/>
<path d="M48.28 507.83l1.3 -1.3l1.3 1.3l-1.3 1.3z" fill="#2c2"/>
<path d="M47.56 505.88l2.8 -2.9l2.8 2.9l-2.8 2.9z" fill="#f00"/>
<path d="M48.36 505.88l1.3 -1.3l1.3 1.3l-1.3 1.3z" fill="#2c2"/>
<path d="M47.65 503.93l2.8 -2.9l2.8 2.9l-2.8 2.9z" fill="#f00"/>
<path d="M48.45 503.93l1.3 -1.3l1.3 1.3l-1.3 1.3z" fill="#2c2"/>
<path d="M47.73 502.26l2.8 -2.9l2.8 2.9l-2.8 2.9z" fill="#f00"/>
<path d="M48.53 502.26l1.3 -1.3l1.3 1.3l-1.3 1.3z" fill="#2c2"/>
<path d="M47.9 500.31l2.8 -2.9l2.8 2.9l-2.8 2.9z" fill="#f00"/>
<path d="M48.7 500.31l1.3 -1.3l1.3 1.3l-1.3 1.3z" fill="#2c2"/>
<path d="M48.07 498.64l2.8 -2.9l2.8 2.9l-2.8 2.9z" fill="#f00"/>
<path d="M48.87 498.64l1.3 -1.3l1.3 1.3l-1.3 1.3z" fill="#2c2"/>
<path d="M48.41 496.97l2.8 -2.9l2.8 2.9l-2.8 2.9z" fill="#f00"/>
<path d="M49.21 496.97l1.3 -1.3l1.3 1.3l-1.3 1.3z" fill="#2c2"/>
<path d="M48.74 495.57l2.8 -2.9l2.8 2.9l-2.8 2.9z" fill="#f00"/>
<path d="M49.54 495.57l1.3 -1.3l1.3 1.3l-1.3 1.3z" fill="#2c2"/>
<path d="M49.08 494.46l2.8 -2.9l2.8 2.9l-2.8 2.9z" fill="#f00"/>
<path d="M49.88 494.46l1.3 -1.3l1.3 1.3l-1.3 1.3z" fill="#2c2"/>
<path d="M52.29 489.73l2.8 -2.9l2.8 2.9l-2.8 2.9z" fill="#f00"/>
<path d="M53.09 489.73l1.3 -1.3l1.3 1.3l-1.3 1.3z" fill="#2c2"/>
<path d="M57.53 485.27l2.8 -2.9l2.8 2.9l-2.8 2.9z" fill="#f00"/>
<path d="M58.33 485.27l1.3 -1.3l1.3 1.3l-1.3 1.3z" fill="#2c2"/>
<path d="M60.9 483.04l2.8 -2.9l2.8 2.9l-2.8 2.9z" fill="#f00"/>
<path d="M61.7 483.04l1.3 -1.3l1.3 1.3l-1.3 1.3z" fill="#2c2"/>
<path d="M64.28 481.37l2.8 -2.9l2.8 2.9l-2.8 2.9z" fill="#f00"/>
<path d="M65.08 481.37l1.3 -1.3l1.3 1.3l-1.3 1.3z" fill="#2c2"/>
<path d="M67.66 479.98l2.8 -2.9l2.8 2.9l-2.8 2.9z" fill="#f00"/>
<path d="M68.46 479.98l1.3 -1.3l1.3 1.3l-1.3 1.3z" fill="#2c2"/>
<path d="M70.87 478.3l2.8 -2.9l2.8 2.9l-2.8 2.9z" fill="#f00"/>
<path d="M71.67 478.3l1.3 -1.3l1.3 1.3l-1.3 1.3z" fill="#2c2"/>
<path d="M74.59 477.47l2.8 -2.9l2.8 2.9l-2.8 2.9z" fill="#f00"/>
<path d="M75.39 477.47l1.3 -1.3l1.3 1.3l-1.3 1.3z" fill="#2c2"/>
<path d="M77.8 476.08l2.8 -2.9l2.8 2.9l-2.8 2.9z" fill="#f00"/>
<path d="M78.6 476.08l1.3 -1.3l1.3 1.3l-1.3 1.3z" fill="#2c2"/>
<path d="M80.84 475.24l2.8 -2.9l2.8 2.9l-2.8 2.9z" fill="#f00"/>
<path d="M81.64 475.24l1.3 -1.3l1.3 1.3l-1.3 1.3z" fill="#2c2"/>
<path d="M89.28 473.01l2.8 -2.9l2.8 2.9l-2.8 2.9z" fill="#f00"/>
<path d="M90.08 473.01l1.3 -1.3l1.3 1.3l-1.3 1.3z" fill="#2c2"/>
<path d="M94.69 471.06l2.8 -2.9l2.8 2.9l-2.8 2.9z" fill="#f00"/>
<path d="M95.49 471.06l1.3 -1.3l1.3 1.3l-1.3 1.3z" fill="#2c2"/>
<path d="M98.07 471.62l2.8 -2.9l2.8 2.9l-2.8 2.9z" fill="#f00"/>
<path d="M98.87 471.62l1.3 -1.3l1.3 1.3l-1.3 1.3z" fill="#2c2"/>
<path d="M104.32 468.28l2.8 -2.9l2.8 2.9l-2.8 2.9z" fill="#f00"/>
<path d="M105.12 468.28l1.3 -1.3l1.3 1.3l-1.3 1.3z" fill="#2c2"/>
<path d="M107.19 469.11l2.8 -2.9l2.8 2.9l-2.8 2.9z" fill="#f00"/>
<path d="M107.99 469.11l1.3 -1.3l1.3 1.3l-1.3 1.3z" fill="#2c2"/>
<path d="M114.96 466.33l2.8 -2.9l2.8 2.9l-2.8 2.9z" fill="#f00"/>
<path d="M115.76 466.33l1.3 -1.3l1.3 1.3l-1.3 1.3z" fill="#2c2"/>
<path d="M122.73 464.1l2.8 -2.9l2.8 2.9l-2.8 2.9z" fill="#f00"/>
<path d="M123.53 464.1l1.3 -1.3l1.3 1.3l-1.3 1.3z" fill="#2c2"/>
<path d="M131.17 461.31l2.8 -2.9l2.8 2.9l-2.8 2.9z" fill="#f00"/>
<path d="M131.97 461.31l1.3 -1.3l1.3 1.3l-1.3 1.3z" fill="#2c2"/>
<path d="M139.45 458.81l2.8 -2.9l2.8 2.9l-2.8 2.9z" fill="#f00"/>
<path d="M140.25 458.81l1.3 -1.3l1.3 1.3l-1.3 1.3z" fill="#2c2"/>
<path d="M148.23 456.02l2.8 -2.9l2.8 2.9l-2.8 2.9z" fill="#f00"/>
<path d="M149.03 456.02l1.3 -1.3l1.3 1.3l-1.3 1.3z" fill="#2c2"/>
<path d="M156.85 453.51l2.8 -2.9l2.8 2.9l-2.8 2.9z" fill="#f00"/>
<path d="M157.65 453.51l1.3 -1.3l1.3 1.3l-1.3 1.3z" fill="#2c2"/>
<path d="M165.13 450.73l2.8 -2.9l2.8 2.9l-2.8 2.9z" fill="#f00"/>
<path d="M165.93 450.73l1.3 -1.3l1.3 1.3l-1.3 1.3z" fill="#2c2"/>
<path d="M173.91 447.66l2.8 -2.9l2.8 2.9l-2.8 2.9z" fill="#f00"/>
<path d="M174.71 447.66l1.3 -1.3l1.3 1.3l-1.3 1.3z" fill="#2c2"/>
<path d="M182.19 444.32l2.8 -2.9l2.8 2.9l-2.8 2.9z" fill="#f00"/>
<path d="M182.99 444.32l1.3 -1.3l1.3 1.3l-1.3 1.3z" fill="#2c2"/>
<path d="M185.9 442.65l2.8 -2.9l2.8 2.9l-2.8 2.9z" fill="#f00"/>
<path d="M186.7 442.65l1.3 -1.3l1.3 1.3l-1.3 1.3z" fill="#2c2"/>
<path d="M190.3 439.31l2.8 -2.9l2.8 2.9l-2.8 2.9z" fill="#f00"/>
<path d="M191.1 439.31l1.3 -1.3l1.3 1.3l-1.3 1.3z" fill="#2c2"/>
<path d="M194.86 435.13l2.8 -2.9l2.8 2.9l-2.8 2.9z" fill="#f00"/>
<path d="M195.66 435.13l1.3 -1.3l1.3 1.3l-1.3 1.3z" fill="#2c2"/>
<path d="M199.08 430.39l2.8 -2.9l2.8 2.9l-2.8 2.9z" fill="#f00"/>
<path d="M199.88 430.39l1.3 -1.3l1.3 1.3l-1.3 1.3z" fill="#2c2"/>
<path d="M203.64 423.99l2.8 -2.9l2.8 2.9l-2.8 2.9z" fill="#f00"/>
<path d="M204.44 423.99l1.3 -1.3l1.3 1.3l-1.3 1.3z" fill="#2c2"/>
<path d="M207.86 417.86l2.8 -2.9l2.8 2.9l-2.8 2.9z" fill="#f00"/>
<path d="M208.66 417.86l1.3 -1.3l1.3 1.3l-1.3 1.3z" fill="#2c2"/>
<path d="M210.9 410.34l2.8 -2.9l2.8 2.9l-2.8 2.9z" fill="#f00"/>
<path d="M211.7 410.34l1.3 -1.3l1.3 1.3l-1.3 1.3z" fill="#2c2"/>
<path d="M212.42 406.44l2.8 -2.9l2.8 2.9l-2.8 2.9z" fill="#f00"/>
<path d="M213.22 406.44l1.3 -1.3l1.3 1.3l-1.3 1.3z" fill="#2c2"/>
<path d="M215.46 393.07l2.8 -2.9l2.8 2.9l-2.8 2.9z" fill="#f00"/>
<path d="M216.26 393.07l1.3 -1.3l1.3 1.3l-1.3 1.3z" fill="#2c2"/>
<path d="M215.46 393.07l2.8 -2.9l2.8 2.9l-2.8 2.9z" fill="#f00"/>
<path d="M216.26 393.07l1.3 -1.3l1.3 1.3l-1.3 1.3z" fill="#2c2"/>
<path d="M214.11 398.92l2.8 -2.9l2.8 2.9l-2.8 2.9z" fill="#f00"/>
<path d="M214.91 398.92l1.3 -1.3l1.3 1.3l-1.3 1.3z" fill="#2c2"/>
<path d="M212.42 399.75l2.8 -2.9l2.8 2.9l-2.8 2.9z" fill="#f00"/>
<path d="M213.22 399.75l1.3 -1.3l1.3 1.3l-1.3 1.3z" fill="#2c2"/>
<path d="M210.06 405.33l2.8 -2.9l2.8 2.9l-2.8 2.9z" fill="#f00"/>
<path d="M210.86 405.33l1.3 -1.3l1.3 1.3l-1.3 1.3z" fill="#2c2"/>
<path d="M205.84 412.29l2.8 -2.9l2.8 2.9l-2.8 2.9z" fill="#f00"/>
<path d="M206.64 412.29l1.3 -1.3l1.3 1.3l-1.3 1.3z" fill="#2c2"/>
<path d="M204.15 414.52l2.8 -2.9l2.8 2.9l-2.8 2.9z" fill="#f00"/>
<path d="M204.95 414.52l1.3 -1.3l1.3 1.3l-1.3 1.3z" fill="#2c2"/>
<path d="M199.92 418.42l2.8 -2.9l2.8 2.9l-2.8 2.9z" fill="#f00"/>
<path d="M200.72 418.42l1.3 -1.3l1.3 1.3l-1.3 1.3z" fill="#2c2"/>
<path d="M195.36 420.92l2.8 -2.9l2.8 2.9l-2.8 2.9z" fill="#f00"/>
<path d="M196.16 420.92l1.3 -1.3l1.3 1.3l-1.3 1.3z" fill="#2c2"/>
<path d="M191.65 422.87l2.8 -2.9l2.8 2.9l-2.8 2.9z" fill="#f00"/>
<path d="M192.45 422.87l1.3 -1.3l1.3 1.3l-1.3 1.3z" fill="#2c2"/>
<path d="M186.92 424.82l2.8 -2.9l2.8 2.9l-2.8 2.9z" fill="#f00"/>
<path d="M187.72 424.82l1.3 -1.3l1.3 1.3l-1.3 1.3z" fill="#2c2"/>
<path d="M182.52 426.22l2.8 -2.9l2.8 2.9l-2.8 2.9z" fill="#f00"/>
<path d="M183.32 426.22l1.3 -1.3l1.3 1.3l-1.3 1.3z" fill="#2c2"/>
<path d="M174.75 427.89l2.8 -2.9l2.8 2.9l-2.8 2.9z" fill="#f00"/>
<path d="M175.55 427.89l1.3 -1.3l1.3 1.3l-1.3 1.3z" fill="#2c2"/>
<path d="M166.48 429.28l2.8 -2.9l2.8 2.9l-2.8 2.9z" fill="#f00"/>
<path d="M167.28 429.28l1.3 -1.3l1.3 1.3l-1.3 1.3z" fill="#2c2"/>
<path d="M157.53 430.39l2.8 -2.9l2.8 2.9l-2.8 2.9z" fill="#f00"/>
<path d="M158.33 430.39l1.3 -1.3l1.3 1.3l-1.3 1.3z" fill="#2c2"/>
<path d="M149.25 431.79l2.8 -2.9l2.8 2.9l-2.8 2.9z" fill="#f00"/>
<path d="M150.05 431.79l1.3 -1.3l1.3 1.3l-1.3 1.3z" fill="#2c2"/>
<path d="M140.3 432.34l2.8 -2.9l2.8 2.9l-2.8 2.9z" fill="#f00"/>
<path d="M141.1 432.34l1.3 -1.3l1.3 1.3l-1.3 1.3z" fill="#2c2"/>
<path d="M131.85 433.74l2.8 -2.9l2.8 2.9l-2.8 2.9z" fill="#f00"/>
<path d="M132.65 433.74l1.3 -1.3l1.3 1.3l-1.3 1.3z" fill="#2c2"/>
<path d="M122.9 462.15l2.8 -2.9l2.8 2.9l-2.8 2.9z" fill="#f00"/>
<path d="M123.7 462.15l1.3 -1.3l1.3 1.3l-1.3 1.3z" fill="#2c2"/>
<path d="M114.96 466.05l2.8 -2.9l2.8 2.9l-2.8 2.9z" fill="#f00"/>
<path d="M115.76 466.05l1.3 -1.3l1.3 1.3l-1.3 1.3z" fill="#2c2"/>
<rect x="268.5" y="375.8" width="202" height="153.6" fill="none" stroke="#707070" stroke-width="1.5"/>
<path d="M285.33 529.4v-2.8M319 529.4v-2.8M352.67 529.4v-2.8M386.33 529.4v-2.8M420 529.4v-2.8M453.67 529.4v-2.8M302.17 529.4v-1.6M335.83 529.4v-1.6M369.5 529.4v-1.6M403.17 529.4v-1.6M436.83 529.4v-1.6M268.5 516.2h2.8M268.5 488.12h2.8M268.5 460.04h2.8M268.5 431.96h2.8M268.5 403.88h2.8M268.5 375.8h2.8M268.5 502.16h1.6M268.5 474.08h1.6M268.5 446h1.6M268.5 417.92h1.6M268.5 389.84h1.6" stroke="#333" stroke-width="0.9" fill="none"/>
<text x="285.33" y="538.3" text-anchor="middle" font-size="6.8" font-weight="bold" fill="#000" stroke="#000" stroke-width="0.3">0</text>
<text x="319" y="538.3" text-anchor="middle" font-size="6.8" font-weight="bold" fill="#000" stroke="#000" stroke-width="0.3">20</text>
<text x="352.67" y="538.3" text-anchor="middle" font-size="6.8" font-weight="bold" fill="#000" stroke="#000" stroke-width="0.3">40</text>
<text x="386.33" y="538.3" text-anchor="middle" font-size="6.8" font-weight="bold" fill="#000" stroke="#000" stroke-width="0.3">60</text>
<text x="420" y="538.3" text-anchor="middle" font-size="6.8" font-weight="bold" fill="#000" stroke="#000" stroke-width="0.3">80</text>
<text x="453.67" y="538.3" text-anchor="middle" font-size="6.8" font-weight="bold" fill="#000" stroke="#000" stroke-width="0.3">100</text>
<text x="264.3" y="518.1" text-anchor="end" font-size="6.8" font-weight="bold" fill="#000" stroke="#000" stroke-width="0.3">0.0</text>
<text x="264.3" y="490.02" text-anchor="end" font-size="6.8" font-weight="bold" fill="#000" stroke="#000" stroke-width="0.3">0.1</text>
<text x="264.3" y="461.94" text-anchor="end" font-size="6.8" font-weight="bold" fill="#000" stroke="#000" stroke-width="0.3">0.2</text>
<text x="264.3" y="433.86" text-anchor="end" font-size="6.8" font-weight="bold" fill="#000" stroke="#000" stroke-width="0.3">0.3</text>
<text x="264.3" y="405.78" text-anchor="end" font-size="6.8" font-weight="bold" fill="#000" stroke="#000" stroke-width="0.3">0.4</text>
<text x="264.3" y="377.7" text-anchor="end" font-size="6.8" font-weight="bold" fill="#000" stroke="#000" stroke-width="0.3">0.5</text>
<text x="330.9" y="545.7" font-size="9" font-weight="bold" stroke="#000" stroke-width="0.2" textLength="72.1" lengthAdjust="spacingAndGlyphs">Pore Diameter (nm)</text>
<text transform="translate(249.8 516.4) rotate(-90)" font-size="8.6" font-weight="bold" stroke="#000" stroke-width="0.2" textLength="130.1" lengthAdjust="spacingAndGlyphs">dV/dlog(D) Pore Volume (cm<tspan dy="-3.2" font-size="6.19">3</tspan><tspan dy="3.2">/g, STP)</tspan></text>
<text x="275" y="392.6" font-size="12.5" font-weight="bold">F</text>
<polyline points="288.19,515.42 289.88,514.29 290.38,502.27 291.56,390.09 292.4,401.52 293.58,510.92 295.1,512.61 297.12,512.61 298.97,512.33 301.49,511.48 304.19,510.11 306.88,509.55 310.92,510.11 316.64,510.39 324.89,510.11 335.5,509.83 349.13,510.11 389.53,510.11 456.02,513.45" fill="none" stroke="#4848ff" stroke-width="1.2" stroke-linejoin="round"/>
<path d="M285.39 515.42l2.8 -2.9l2.8 2.9l-2.8 2.9z" fill="#f00"/>
<path d="M286.19 515.42l1.3 -1.3l1.3 1.3l-1.3 1.3z" fill="#2c2"/>
<path d="M287.08 514.29l2.8 -2.9l2.8 2.9l-2.8 2.9z" fill="#f00"/>
<path d="M287.88 514.29l1.3 -1.3l1.3 1.3l-1.3 1.3z" fill="#2c2"/>
<path d="M287.58 502.27l2.8 -2.9l2.8 2.9l-2.8 2.9z" fill="#f00"/>
<path d="M288.38 502.27l1.3 -1.3l1.3 1.3l-1.3 1.3z" fill="#2c2"/>
<path d="M288.76 390.09l2.8 -2.9l2.8 2.9l-2.8 2.9z" fill="#f00"/>
<path d="M289.56 390.09l1.3 -1.3l1.3 1.3l-1.3 1.3z" fill="#2c2"/>
<path d="M289.6 401.52l2.8 -2.9l2.8 2.9l-2.8 2.9z" fill="#f00"/>
<path d="M290.4 401.52l1.3 -1.3l1.3 1.3l-1.3 1.3z" fill="#2c2"/>
<path d="M290.78 510.92l2.8 -2.9l2.8 2.9l-2.8 2.9z" fill="#f00"/>
<path d="M291.58 510.92l1.3 -1.3l1.3 1.3l-1.3 1.3z" fill="#2c2"/>
<path d="M292.3 512.61l2.8 -2.9l2.8 2.9l-2.8 2.9z" fill="#f00"/>
<path d="M293.1 512.61l1.3 -1.3l1.3 1.3l-1.3 1.3z" fill="#2c2"/>
<path d="M294.32 512.61l2.8 -2.9l2.8 2.9l-2.8 2.9z" fill="#f00"/>
<path d="M295.12 512.61l1.3 -1.3l1.3 1.3l-1.3 1.3z" fill="#2c2"/>
<path d="M296.17 512.33l2.8 -2.9l2.8 2.9l-2.8 2.9z" fill="#f00"/>
<path d="M296.97 512.33l1.3 -1.3l1.3 1.3l-1.3 1.3z" fill="#2c2"/>
<path d="M298.69 511.48l2.8 -2.9l2.8 2.9l-2.8 2.9z" fill="#f00"/>
<path d="M299.49 511.48l1.3 -1.3l1.3 1.3l-1.3 1.3z" fill="#2c2"/>
<path d="M301.39 510.11l2.8 -2.9l2.8 2.9l-2.8 2.9z" fill="#f00"/>
<path d="M302.19 510.11l1.3 -1.3l1.3 1.3l-1.3 1.3z" fill="#2c2"/>
<path d="M304.08 509.55l2.8 -2.9l2.8 2.9l-2.8 2.9z" fill="#f00"/>
<path d="M304.88 509.55l1.3 -1.3l1.3 1.3l-1.3 1.3z" fill="#2c2"/>
<path d="M308.12 510.11l2.8 -2.9l2.8 2.9l-2.8 2.9z" fill="#f00"/>
<path d="M308.92 510.11l1.3 -1.3l1.3 1.3l-1.3 1.3z" fill="#2c2"/>
<path d="M313.84 510.39l2.8 -2.9l2.8 2.9l-2.8 2.9z" fill="#f00"/>
<path d="M314.64 510.39l1.3 -1.3l1.3 1.3l-1.3 1.3z" fill="#2c2"/>
<path d="M322.09 510.11l2.8 -2.9l2.8 2.9l-2.8 2.9z" fill="#f00"/>
<path d="M322.89 510.11l1.3 -1.3l1.3 1.3l-1.3 1.3z" fill="#2c2"/>
<path d="M332.7 509.83l2.8 -2.9l2.8 2.9l-2.8 2.9z" fill="#f00"/>
<path d="M333.5 509.83l1.3 -1.3l1.3 1.3l-1.3 1.3z" fill="#2c2"/>
<path d="M346.33 510.11l2.8 -2.9l2.8 2.9l-2.8 2.9z" fill="#f00"/>
<path d="M347.13 510.11l1.3 -1.3l1.3 1.3l-1.3 1.3z" fill="#2c2"/>
<path d="M386.73 510.11l2.8 -2.9l2.8 2.9l-2.8 2.9z" fill="#f00"/>
<path d="M387.53 510.11l1.3 -1.3l1.3 1.3l-1.3 1.3z" fill="#2c2"/>
<path d="M453.22 513.45l2.8 -2.9l2.8 2.9l-2.8 2.9z" fill="#f00"/>
<path d="M454.02 513.45l1.3 -1.3l1.3 1.3l-1.3 1.3z" fill="#2c2"/>
</svg>
</body></html>
